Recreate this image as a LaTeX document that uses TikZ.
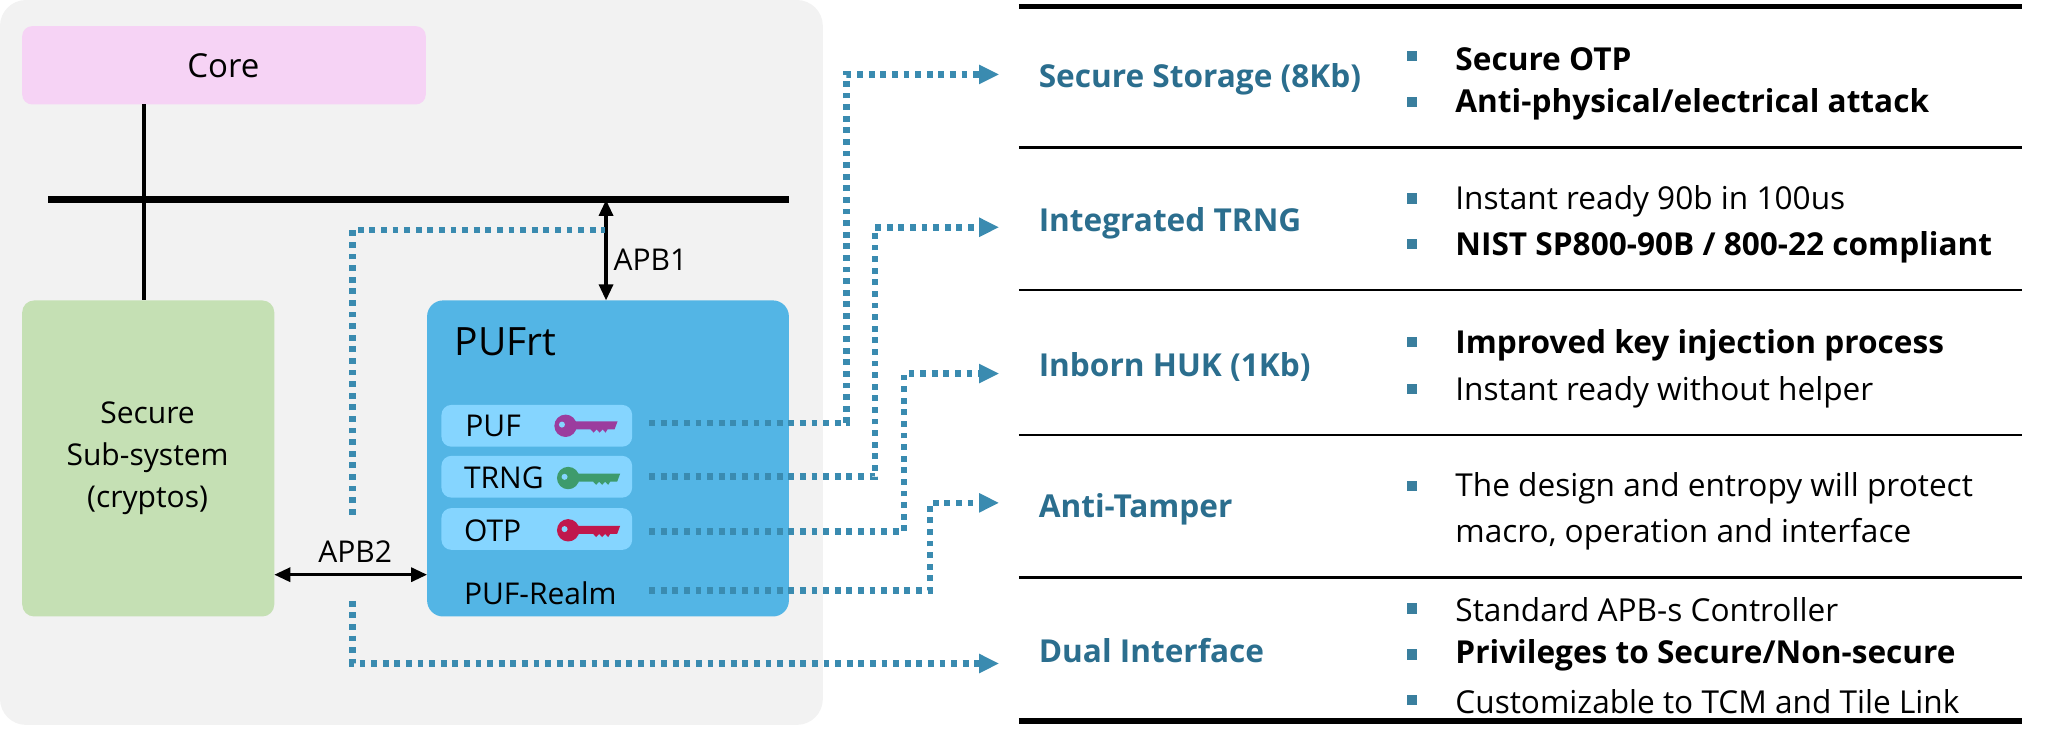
\documentclass[tikz,border=0pt]{standalone}
\usepackage{fontspec}
\setmainfont{Open Sans}
\usetikzlibrary{arrows.meta}
\definecolor{panel}{HTML}{F2F2F2}
\definecolor{corec}{HTML}{F6D3F5}
\definecolor{greenb}{HTML}{C5E0B4}
\definecolor{pufb}{HTML}{53B5E5}
\definecolor{subb}{HTML}{85D5FF}
\definecolor{dotc}{HTML}{3A8BB0}
\definecolor{labc}{HTML}{2B6E8E}
\definecolor{bulc}{HTML}{3A7F9E}
\definecolor{kpurple}{HTML}{9B3C9E}
\definecolor{kgreen}{HTML}{3E9B6C}
\definecolor{kred}{HTML}{C0184C}
\tikzset{
 dotl/.style={draw=dotc,line width=3.3pt,dash pattern=on 2.9pt off 2.9pt},
 dotarrow/.style={dotl,-{Triangle[length=10pt,width=9pt,fill=dotc]}},
 txt/.style={font=\fontsize{15}{17}\selectfont,inner sep=0pt},
 lab/.style={font=\fontsize{15.8}{17}\selectfont\bfseries,text=labc,anchor=west,inner sep=0pt},
 item/.style={font=\fontsize{15.8}{17}\selectfont,anchor=west,inner sep=0pt},
 bitem/.style={item,font=\fontsize{15.8}{17}\selectfont\bfseries},
 sub/.style={fill=subb,rounded corners=5pt},
 arr/.style={line width=1.6pt,{Triangle[length=8pt,width=7pt]}-{Triangle[length=8pt,width=7pt]}},
 key/.pic={\begin{scope}[x=1pt,y=1pt]\fill (0,0) circle (5.6); \fill (4,2.2) -- (26,2.2) -- (24.5,-1.8) -- (21,-1.8)--(20,-3.4)--(18.5,-1.8)--(17,-3.4)--(15.5,-1.8)--(14,-3.4)--(12.5,-1.8)--(4,-1.8)--cycle; \fill[subb] (-1.8,0.6) circle (1.5);\end{scope}}
}
\begin{document}
\begin{tikzpicture}[x=0.6531pt,y=-0.6531pt]
\useasboundingbox (0,0) rectangle (1568,569.6);
\fill[panel,rounded corners=13pt] (0,0) rectangle (630,555);
\fill[corec,rounded corners=5pt] (17,20) rectangle (326,80);
\node[txt,font=\fontsize{16.5}{18}\selectfont] (core) at (171,50) {Core};
\fill[greenb,rounded corners=6pt] (17,230) rectangle (210,472);
\node[txt,align=center,font=\fontsize{15}{21}\selectfont] (sec) at (113,351) {Secure\\Sub-system\\(cryptos)};
\fill[pufb,rounded corners=8pt] (327,230) rectangle (604,472);
\node[anchor=west,inner sep=0pt,font=\fontsize{19.5}{21}\selectfont] (pufrt) at (348,262) {PUFrt};
\fill[sub] (338,310) rectangle (484,342);
\fill[sub] (338,349) rectangle (484,381);
\fill[sub] (338,389) rectangle (484,421);
\node[txt,anchor=west] (puf) at (356,326) {PUF};
\node[txt,anchor=west] (trng) at (355,366) {TRNG};
\node[txt,anchor=west] (otp) at (355,406) {OTP};
\node[txt,anchor=west] (realm) at (355,454) {PUF-Realm};
\pic[kpurple] at (433,326) {key};
\pic[kgreen] at (435,366) {key};
\pic[kred] at (435,406) {key};
% bus
\draw[line width=3.4pt] (37,153) -- (604,153);
\draw[line width=2.1pt] (110,80) -- (110,230);
\coordinate (b1) at (464,153); \coordinate (p1) at (464,230);
\draw[arr] (b1) -- (p1);
\node[txt] (apb1) at (498,199) {APB1};
\coordinate (g1) at (210,440); \coordinate (p2) at (327,440);
\draw[arr] (g1) -- (p2);
\node[txt] (apb2) at (272,422) {APB2};
% dotted
\draw[dotl] (270,394) -- (270,176) -- (463,176);
\coordinate (r1) at (765,57); \coordinate (r2) at (765,174); \coordinate (r3) at (765,286); \coordinate (r4) at (765,385); \coordinate (r5) at (765,508);
\draw[dotarrow] (270,460) -- (270,508) -- (r5);
\draw[dotarrow] (497,324) -- (648,324) -- (648,57) -- (r1);
\draw[dotarrow] (497,365) -- (670,365) -- (670,174) -- (r2);
\draw[dotarrow] (497,407) -- (692,407) -- (692,286) -- (r3);
\draw[dotarrow] (497,452) -- (712,452) -- (712,385) -- (r4);
% table
\draw[line width=2.9pt] (780,5) -- (1548,5);
\foreach \y in {113,222,333,442} \draw[line width=1.3pt] (780,\y) -- (1548,\y);
\draw[line width=2.9pt] (780,552) -- (1548,552);
\node[lab] (l1) at (795,61) {Secure Storage (8Kb)};
\node[lab] (l2) at (795,171) {Integrated TRNG};
\node[lab] (l3) at (795,281) {Inborn HUK (1Kb)};
\node[lab] (l4) at (795,390) {Anti-Tamper};
\node[lab] (l5) at (795,498) {Dual Interface};
\foreach \y in {43,78,152,187,262,298,372,466,501,536} \fill[bulc] (1077,\y-4) rectangle (1085,\y+4);
\node[bitem] at (1114,45) {Secure OTP};
\node[bitem] at (1114,80) {Anti-physical/electrical attack};
\node[item] at (1114,154) {Instant ready 90b in 100us};
\node[bitem] at (1114,189) {NIST SP800-90B / 800-22 compliant};
\node[bitem] at (1114,264) {Improved key injection process};
\node[item] at (1114,300) {Instant ready without helper};
\node[item] at (1114,374) {The design and entropy will protect};
\node[item] at (1114,409) {macro, operation and interface};
\node[item] at (1114,467) {Standard APB-s Controller};
\node[bitem] at (1114,502) {Privileges to Secure/Non-secure};
\node[item] at (1114,537) {Customizable to TCM and Tile Link};
\end{tikzpicture}
\end{document}
